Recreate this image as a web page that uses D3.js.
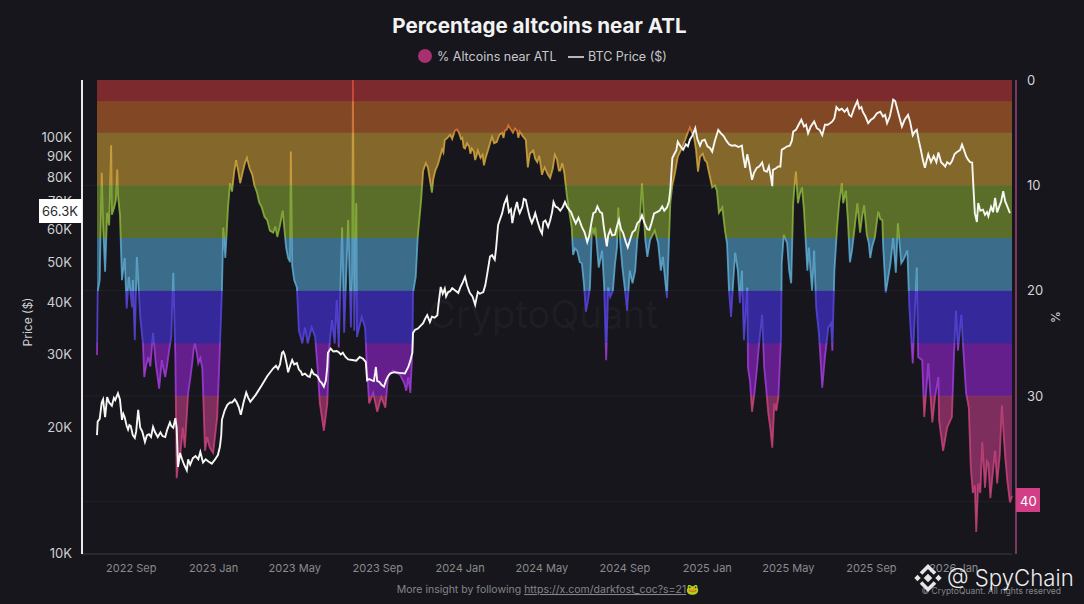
<!DOCTYPE html>
<html>
<head>
<meta charset="utf-8">
<script src="https://cdn.jsdelivr.net/npm/d3@7"></script>
<style>
  html, body { margin: 0; padding: 0; background: #16161c; overflow: hidden; }
  text { font-family: Inter, "Noto Sans", sans-serif; }
</style>
</head>
<body>
<div id="chart"></div>
<script>
// days counted from the first date on the chart
const firstDate = new Date(2022, 6, 13);
const lastDay = 1355;

const pctDays = [
  0,1,4,7,9,12,15,18,21,22,25,28,
  30,31,34,37,41,44,47,52,53,56,59,64,
  68,70,73,76,79,83,85,87,92,96,99,101,
  104,107,110,113,116,118,120,123,127,130,135,138,
  141,143,145,148,150,153,156,160,163,167,172,178,
  182,185,187,190,194,197,200,203,206,209,212,216,
  219,222,226,230,233,237,240,244,248,252,256,261,
  264,267,271,275,280,283,286,287,289,292,296,299,
  304,308,312,318,323,327,330,336,341,344,348,352,
  355,358,363,366,372,376,378,379,381,384,385,392,
  397,400,403,409,415,421,427,431,438,449,455,458,
  461,464,467,468,472,475,480,483,487,490,493,496,
  498,501,505,508,511,513,515,519,523,526,530,533,
  536,539,541,543,545,548,551,553,555,558,560,562,
  564,568,571,573,576,579,582,585,588,592,596,600,
  602,604,607,609,612,616,619,622,624,626,630,635,
  638,641,646,649,652,655,659,661,663,667,671,675,
  678,681,684,686,689,692,696,700,703,705,708,711,
  715,718,721,724,727,730,733,736,738,743,748,751,
  754,757,760,764,767,770,772,775,778,782,785,789,
  793,797,800,804,807,812,815,819,826,831,835,838,
  844,849,852,856,860,865,871,875,878,881,884,887,
  890,893,897,900,903,907,911,915,918,921,926,930,
  933,936,939,942,945,949,952,955,958,963,964,967,
  970,974,977,981,985,988,991,994,997,1000,1003,1006,
  1009,1013,1014,1017,1022,1025,1028,1031,1033,1035,1038,1041,
  1044,1047,1052,1054,1059,1062,1065,1069,1071,1074,1078,1083,
  1087,1089,1092,1096,1099,1103,1105,1109,1112,1115,1118,1122,
  1126,1130,1133,1136,1140,1143,1145,1148,1152,1155,1157,1160,
  1163,1164,1168,1171,1175,1179,1183,1186,1191,1194,1200,1203,
  1208,1214,1216,1222,1225,1231,1237,1241,1246,1247,1253,1259,
  1263,1266,1269,1272,1275,1280,1283,1287,1291,1294,1297,1300,
  1302,1305,1308,1311,1315,1318,1320,1323,1327,1330,1333,1337,
  1340,1343,1345,1348,1352,1355
];
const pctValues = [
  26.1,20.1,19.0,8.8,13.8,18.2,12.6,13.8,6.2,12.8,12.2,11.4,
  8.5,10.9,12.8,19.0,16.9,21.7,18.7,21.6,19.0,24.7,16.8,22.5,
  25.0,28.2,27.0,26.3,27.2,24.0,25.4,26.9,29.3,26.6,27.6,28.2,
  27.0,25.6,24.4,18.3,26.3,37.8,36.5,35.8,33.0,34.9,29.7,28.4,
  26.9,25.6,25.0,26.0,26.9,26.4,27.4,35.2,33.9,34.9,35.4,32.0,
  25.4,20.0,14.0,16.9,12.1,9.8,10.6,8.8,7.6,8.6,9.8,8.7,
  7.9,7.4,8.4,9.0,10.0,10.7,11.6,12.1,13.0,13.3,14.3,14.5,
  13.9,14.9,13.8,12.4,15.9,16.9,17.3,6.8,17.6,19.0,19.7,23.8,
  25.0,23.5,25.0,23.5,24.4,27.6,30.7,33.3,30.7,25.4,22.8,25.0,
  20.9,25.4,14.0,24.0,13.3,23.5,18.3,0.0,23.8,11.7,24.4,22.5,
  23.5,27.6,30.7,29.7,31.5,30.1,31.1,28.2,27.6,28.0,28.8,29.5,
  28.2,29.7,25.7,20.2,18.7,14.9,11.4,8.6,7.9,8.3,9.5,10.7,
  9.4,8.6,8.0,7.3,6.6,6.9,5.7,5.5,5.2,5.6,4.8,4.7,
  5.0,5.6,5.5,6.4,6.5,6.0,6.3,7.0,6.5,6.8,7.6,7.2,
  6.7,7.4,7.1,8.1,7.3,6.7,6.0,5.4,6.0,5.9,5.2,5.0,
  5.5,4.8,4.7,4.3,4.6,5.0,4.6,4.8,5.5,4.9,5.3,5.7,
  8.3,7.0,6.7,7.5,7.8,7.2,9.0,8.6,8.3,8.9,9.3,8.4,
  7.1,7.5,8.6,8.6,7.9,8.8,11.1,12.8,14.0,16.6,16.0,16.2,
  17.3,17.4,19.3,22.0,21.0,19.7,14.0,14.6,14.0,17.8,16.2,19.5,
  26.6,19.7,20.6,20.0,17.5,15.9,12.1,15.5,17.8,20.0,21.9,18.1,
  19.3,18.1,15.2,13.3,9.8,15.2,16.8,15.2,14.3,15.5,18.1,16.8,
  20.7,11.7,10.0,8.8,7.3,6.6,5.7,5.0,4.5,5.0,5.4,6.6,
  8.7,7.3,7.0,7.6,7.8,9.0,10.2,10.0,10.5,12.6,12.1,14.3,
  15.5,20.1,22.5,19.3,16.4,18.1,21.2,18.1,24.7,19.7,27.3,28.6,
  31.5,29.5,27.6,24.7,22.3,27.3,29.3,31.6,33.0,34.9,30.7,31.4,
  30.1,24.4,17.4,14.7,15.5,18.1,19.3,11.7,10.0,8.7,11.7,10.8,
  10.2,12.4,18.1,15.9,20.0,16.2,21.6,24.0,26.0,29.2,26.3,23.5,
  23.1,25.7,18.1,14.0,11.7,9.8,11.7,10.5,13.3,17.3,16.2,14.0,
  11.7,14.5,13.0,11.9,14.7,15.5,16.9,15.8,14.9,13.4,12.5,13.2,
  13.3,15.5,20.2,19.0,17.4,15.0,18.3,13.6,17.4,17.1,16.2,21.6,
  26.9,17.8,26.3,26.6,32.0,26.9,32.5,30.1,28.2,32.3,35.2,33.0,
  32.4,32.0,26.3,21.9,25.7,22.3,25.7,29.7,31.1,36.8,39.2,38.5,
  42.9,38.3,39.2,34.4,38.7,36.2,36.4,39.7,37.0,35.2,38.3,35.5,
  30.9,34.0,35.8,38.0,40.1,39.5
];

const priceDays = [
  0,1,4,7,9,12,15,18,22,25,27,31,
  34,37,39,41,44,46,48,50,53,56,58,61,
  64,67,71,74,77,80,83,86,90,94,97,101,
  104,108,110,113,116,118,120,123,126,129,133,135,
  138,142,146,150,153,157,161,165,170,175,179,182,
  184,185,189,193,197,200,204,207,210,213,217,221,
  224,227,235,244,252,261,265,268,271,274,276,278,
  281,283,286,289,292,296,299,302,304,308,312,315,
  318,321,324,327,330,333,336,339,341,342,346,350,
  355,358,361,364,368,372,378,384,389,394,398,400,
  403,407,410,412,413,415,418,421,425,428,431,434,
  440,448,456,461,464,467,468,471,475,478,483,486,
  489,493,496,500,504,506,509,512,515,517,520,523,
  526,530,535,538,541,545,548,552,556,560,562,564,
  567,572,575,578,582,585,589,591,594,597,600,603,
  607,610,613,615,618,622,624,626,630,632,635,638,
  641,644,647,649,652,656,659,661,664,668,671,674,
  676,679,682,686,690,693,696,699,702,705,709,713,
  718,722,726,729,732,735,738,741,745,748,751,755,
  757,760,763,767,770,773,776,779,783,786,790,793,
  797,800,804,807,811,815,818,821,825,829,833,837,
  840,844,847,849,852,855,858,860,864,868,872,875,
  878,882,886,889,893,896,900,904,908,911,915,920,
  924,928,932,936,940,945,950,955,957,960,963,966,
  970,973,977,981,985,988,992,995,998,1000,1001,1005,
  1009,1012,1014,1018,1022,1026,1029,1031,1035,1039,1043,1047,
  1050,1053,1057,1062,1066,1070,1074,1078,1082,1086,1089,1092,
  1095,1099,1103,1107,1111,1114,1117,1121,1126,1129,1132,1134,
  1138,1142,1146,1150,1155,1160,1164,1167,1170,1174,1177,1179,
  1182,1185,1188,1192,1196,1201,1204,1208,1211,1214,1217,1220,
  1223,1226,1228,1231,1235,1239,1243,1246,1250,1253,1256,1259,
  1263,1266,1270,1274,1278,1281,1284,1287,1290,1293,1296,1298,
  1300,1303,1305,1308,1312,1315,1318,1320,1324,1327,1330,1333,
  1336,1339,1342,1345,1348,1352
];
// BTC price, thousand dollars
const priceValues = [
  19.2,20.7,21.0,23.0,23.4,21.2,23.7,23.0,22.6,23.6,23.3,24.2,
  23.4,20.9,21.6,21.2,20.2,19.8,20.3,20.2,19.2,18.9,19.6,22.1,
  20.0,19.6,18.5,19.2,19.3,19.0,20.1,19.5,19.0,19.5,19.1,19.0,
  19.8,20.6,20.2,20.0,21.1,20.0,16.1,17.4,16.8,16.3,15.8,16.8,
  16.3,16.9,17.1,16.8,17.5,16.5,16.8,16.6,16.4,16.8,17.2,18.0,
  19.2,20.9,22.0,22.7,23.0,23.0,23.4,23.0,22.4,21.5,23.0,24.3,
  23.6,23.1,24.0,25.3,26.6,27.8,28.2,27.7,28.4,30.3,30.5,29.9,
  28.4,27.2,28.2,29.1,28.4,28.6,27.6,27.3,26.8,27.0,26.6,26.5,
  27.5,26.9,26.8,26.5,25.9,25.6,25.1,26.0,28.0,30.3,31.0,30.5,
  30.6,30.4,30.0,30.3,29.6,29.2,29.1,29.0,29.6,29.3,28.8,26.0,
  26.2,26.0,25.9,27.2,28.0,25.9,25.8,25.4,25.1,26.0,26.6,27.0,
  27.2,27.1,27.0,28.0,29.0,30.3,33.8,34.4,34.6,35.0,35.7,36.6,
  37.3,35.9,37.0,36.8,37.3,40.0,43.6,42.0,43.2,41.4,42.4,42.6,
  43.3,42.8,42.2,43.5,44.5,46.1,44.0,42.2,41.4,39.5,41.0,42.4,
  42.0,42.4,44.0,47.0,51.6,52.0,50.7,54.0,61.5,63.5,65.6,69.0,
  71.6,66.0,67.0,62.1,66.0,69.8,67.0,65.6,68.0,71.0,70.6,67.0,
  64.0,62.1,64.0,65.6,63.0,60.0,58.6,62.5,63.0,60.8,63.0,66.0,
  69.8,68.0,67.7,66.5,68.0,69.8,68.0,66.9,66.0,64.1,62.0,64.0,
  60.8,59.0,55.9,58.0,62.0,65.6,66.0,68.1,66.0,65.6,60.0,54.6,
  58.0,59.8,58.0,58.2,61.0,63.2,60.0,58.9,56.0,54.3,57.0,59.0,
  59.8,62.0,63.0,64.9,62.0,60.0,59.8,62.0,65.5,66.0,66.5,68.1,
  66.5,67.7,70.0,74.7,89.0,91.0,93.0,97.4,95.0,93.2,96.0,95.0,
  98.5,101,105,99.0,95.3,98.0,98.5,95.0,94.0,92.2,98.0,104,
  102,100.5,98.0,96.0,95.3,95.5,94.6,95.3,90.0,84.3,90.9,86.0,
  78.9,82.0,84.3,85.0,86.8,83.0,82.5,85.0,80.0,76.2,83.4,84.0,
  85.0,84.9,93.2,94.0,95.0,95.3,98.0,103,104,107,110,106,
  107,102,106,109,105,104,101,107,107,108,109,111,
  118,116,117,115,117,113,112,117,122,117,118,115,
  112,108,110,111,114,115,112,113,108,112,118,123,
  122,117,112,106,110,113,109,101,103,104,98.0,93.2,
  88.0,84.3,87.0,90.9,87.0,90.0,87.0,91.8,87.0,86.0,84.9,87.0,
  86.0,87.4,91.0,92.2,93.0,95.9,93.0,90.0,88.2,87.0,86.8,75.0,
  65.6,62.5,69.4,66.5,66.9,65.0,66.0,64.5,68.0,66.0,71.4,65.9,
  68.0,70.0,74.1,70.0,68.1,65.6
];

const priceTicks = [10, 20, 30, 40, 50, 60, 70, 80, 90, 100];
const pctTicks = [0, 10, 20, 30, 40];
const dateTicks = ["2022-09-01", "2023-01-01", "2023-05-01", "2023-09-01", "2024-01-01", "2024-05-01",
                   "2024-09-01", "2025-01-01", "2025-05-01", "2025-09-01", "2026-01-01"];

// colour bands of the % axis
const bandEdges = [0, 2, 5, 10, 15, 20, 25, 30, 45];
const bandFills = ["#7c2a2e", "#824724", "#84672a", "#5a6e2a", "#3b6c8a", "#35289a", "#651f8c", "#7e2e5c"];
const bandLines = ["#e0503c", "#e8803c", "#dcae42", "#93bb40", "#62b2da", "#5a48e2", "#a63ee0", "#d0457f"];

const latestPrice = "66.3K";

const width = 1084, height = 604;
const plot = {left: 97, right: 1012, top: 80, bottom: 554};

const svg = d3.select("#chart").append("svg")
  .attr("width", width)
  .attr("height", height);

const dayDate = (d) => d3.timeDay.offset(firstDate, d);
const x = d3.scaleTime().domain([firstDate, dayDate(lastDay)]).range([plot.left, plot.right]);
const yPct = d3.scaleLinear().domain([0, 45]).range([plot.top, plot.bottom]);
const yPrice = d3.scaleLog().domain([10, 1000]).range([553, 553 - 2 * 416]);

const pctSeries = pctDays.map((d, i) => ({date: dayDate(d), v: pctValues[i]}));
const priceSeries = priceDays.map((d, i) => ({date: dayDate(d), v: priceValues[i]}));

const defs = svg.append("defs");

// area between the top of the plot and the % line
const pctArea = d3.area()
  .x((d) => x(d.date))
  .y0(plot.top)
  .y1((d) => yPct(d.v));

defs.append("clipPath").attr("id", "pctClip")
  .append("path")
  .attr("d", pctArea(pctSeries));

// hard colour steps for the % line
const grad = defs.append("linearGradient")
  .attr("id", "pctLine")
  .attr("gradientUnits", "userSpaceOnUse")
  .attr("x1", 0).attr("x2", 0)
  .attr("y1", plot.top).attr("y2", plot.bottom);
bandLines.forEach((c, i) => {
  grad.append("stop").attr("offset", bandEdges[i] / 45).attr("stop-color", c);
  grad.append("stop").attr("offset", bandEdges[i + 1] / 45).attr("stop-color", c);
});

// the picture is a soft screenshot
defs.append("filter").attr("id", "soft")
  .append("feGaussianBlur").attr("stdDeviation", 0.4);

svg.append("g")
  .attr("clip-path", "url(#pctClip)")
  .selectAll("rect")
  .data(bandFills)
  .enter().append("rect")
  .attr("x", plot.left)
  .attr("width", plot.right - plot.left)
  .attr("y", (c, i) => yPct(bandEdges[i]))
  .attr("height", (c, i) => yPct(bandEdges[i + 1]) - yPct(bandEdges[i]) + 0.6)
  .attr("fill", (c) => c);

// grid
svg.append("g").selectAll("line")
  .data(pctTicks.slice(1))
  .enter().append("line")
  .attr("x1", 82).attr("x2", plot.right)
  .attr("y1", (d) => yPct(d)).attr("y2", (d) => yPct(d))
  .attr("stroke", "#ffffff")
  .attr("stroke-opacity", 0.05);

// watermark
svg.append("text")
  .attr("x", 543).attr("y", 328)
  .attr("text-anchor", "middle")
  .attr("font-size", 38)
  .attr("fill", "#ffffff")
  .attr("fill-opacity", 0.045)
  .text("CryptoQuant");

svg.append("path")
  .datum(pctSeries)
  .attr("fill", "none")
  .attr("stroke", "url(#pctLine)")
  .attr("stroke-width", 1.8)
  .attr("stroke-opacity", 0.8)
  .attr("filter", "url(#soft)")
  .attr("d", d3.line().x((d) => x(d.date)).y((d) => yPct(d.v)));

svg.append("path")
  .datum(priceSeries)
  .attr("fill", "none")
  .attr("stroke", "#f6f6f2")
  .attr("stroke-width", 1.9)
  .attr("filter", "url(#soft)")
  .attr("d", d3.line().x((d) => x(d.date)).y((d) => yPrice(d.v)));

// axes
const xAxis = d3.axisBottom(x)
  .tickValues(dateTicks.map((s) => d3.timeParse("%Y-%m-%d")(s)))
  .tickFormat(d3.timeFormat("%Y %b"))
  .tickSize(0)
  .tickPadding(10);
const gx = svg.append("g")
  .attr("transform", "translate(0," + plot.bottom + ")")
  .call(xAxis);
gx.select(".domain").remove();
gx.selectAll("text").attr("font-size", 11).attr("fill", "#8b8b8e");
svg.append("line")
  .attr("x1", 82).attr("x2", plot.right)
  .attr("y1", plot.bottom).attr("y2", plot.bottom)
  .attr("stroke", "#3c3c42");

const yAxisLeft = d3.axisLeft(yPrice)
  .tickValues(priceTicks)
  .tickFormat((d) => d + "K")
  .tickSize(0)
  .tickPadding(10);
const gl = svg.append("g")
  .attr("transform", "translate(82,0)")
  .call(yAxisLeft);
gl.select(".domain").remove();
gl.selectAll("text").attr("font-size", 13).attr("fill", "#cfcfd2");
svg.append("line")
  .attr("x1", 82).attr("x2", 82)
  .attr("y1", plot.top).attr("y2", plot.bottom)
  .attr("stroke", "#e8e8e8")
  .attr("stroke-width", 2);

// right axis line + latest value tags
svg.append("line")
  .attr("x1", 1016).attr("x2", 1016)
  .attr("y1", plot.top).attr("y2", plot.bottom)
  .attr("stroke", "#7c3a62")
  .attr("stroke-width", 2);
svg.append("rect")
  .attr("x", 1016).attr("y", 488)
  .attr("width", 24).attr("height", 24)
  .attr("fill", "#d23f86");

const yAxisRight = d3.axisRight(yPct)
  .tickValues(pctTicks)
  .tickSize(0)
  .tickPadding(10);
const gr = svg.append("g")
  .attr("transform", "translate(1017,0)")
  .call(yAxisRight);
gr.select(".domain").remove();
gr.selectAll("text")
  .attr("font-size", 13)
  .attr("fill", "#d4d4d6")
  .filter((d) => d === 40)
  .attr("x", 3)
  .attr("fill", "#ffffff");

svg.append("rect")
  .attr("x", 39).attr("y", 199)
  .attr("width", 43).attr("height", 24)
  .attr("fill", "#ffffff");
svg.append("text")
  .attr("x", 60).attr("y", 216)
  .attr("text-anchor", "middle")
  .attr("font-size", 13)
  .attr("fill", "#2a2a30")
  .text(latestPrice);

// axis titles
svg.append("text")
  .attr("transform", "translate(32,322) rotate(-90)")
  .attr("text-anchor", "middle")
  .attr("font-size", 12)
  .attr("fill", "#cfcfd2")
  .text("Price ($)");
svg.append("text")
  .attr("transform", "translate(1060,317) rotate(-90)")
  .attr("text-anchor", "middle")
  .attr("font-size", 12)
  .attr("fill", "#cfcfd2")
  .text("%");

// title and legend
svg.append("text")
  .attr("x", 539.5).attr("y", 33)
  .attr("text-anchor", "middle")
  .attr("font-size", 20.6)
  .attr("font-weight", 700)
  .attr("fill", "#f2f2f2")
  .text("Percentage altcoins near ATL");

svg.append("circle")
  .attr("cx", 425).attr("cy", 56).attr("r", 7)
  .attr("fill", "#a8306f");
svg.append("text")
  .attr("x", 437).attr("y", 61)
  .attr("font-size", 12.5)
  .attr("fill", "#c8c8ca")
  .text("% Altcoins near ATL");
svg.append("line")
  .attr("x1", 568).attr("x2", 584)
  .attr("y1", 57).attr("y2", 57)
  .attr("stroke", "#eeeeee")
  .attr("stroke-width", 1.5);
svg.append("text")
  .attr("x", 588).attr("y", 61)
  .attr("font-size", 12.5)
  .attr("fill", "#c8c8ca")
  .text("BTC Price ($)");

// footer
const foot = svg.append("text")
  .attr("x", 548).attr("y", 593)
  .attr("text-anchor", "middle")
  .attr("font-size", 10.5)
  .attr("fill", "#85858a");
foot.append("tspan").text("More insight by following ");
foot.append("tspan").attr("text-decoration", "underline").text("https://x.com/darkfost_coc?s=21");
foot.append("tspan").text("🐸");

svg.append("text")
  .attr("x", 1061).attr("y", 594)
  .attr("text-anchor", "end")
  .attr("font-size", 8.5)
  .attr("fill", "#85858a")
  .text("© CryptoQuant. All rights reserved");

// repost stamp: binance style diamond
const stamp = svg.append("g").attr("transform", "translate(928,578)");
stamp.append("path")
  .attr("d", "M-7,-4.5L0,-11.5L7,-4.5M-7,4.5L0,11.5L7,4.5")
  .attr("fill", "none")
  .attr("stroke", "#e6e6e6")
  .attr("stroke-width", 3.6);
[[0, 0, 6], [-10.5, 0, 4.5], [10.5, 0, 4.5]].forEach((s) => {
  stamp.append("rect")
    .attr("x", s[0] - s[2] / 2).attr("y", s[1] - s[2] / 2)
    .attr("width", s[2]).attr("height", s[2])
    .attr("transform", "rotate(45," + s[0] + "," + s[1] + ")")
    .attr("fill", "#e6e6e6");
});
svg.append("text")
  .attr("x", 947).attr("y", 586)
  .attr("font-size", 22.2)
  .attr("font-weight", 300)
  .attr("fill", "#ececec")
  .text("@ SpyChain");
</script>
</body>
</html>
